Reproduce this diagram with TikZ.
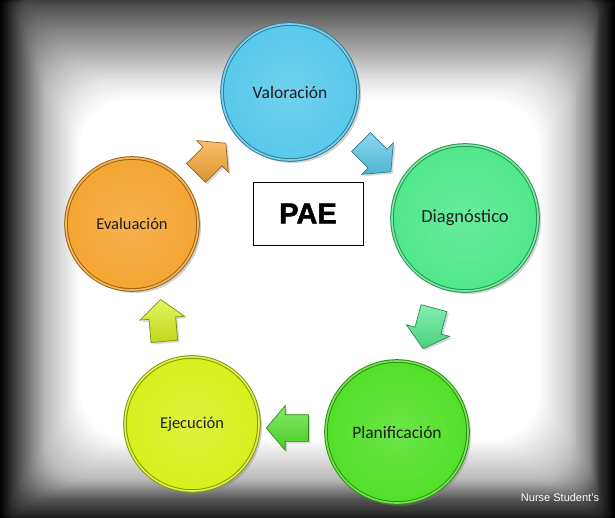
\documentclass[tikz,border=0pt]{standalone}
\usepackage{fontspec}
\setmainfont{Liberation Sans}
\newfontfamily\carl{Carlito}
\newfontfamily\paefont{Liberation Sans}[BoldFeatures={FakeBold=1.6}]
\usetikzlibrary{shapes.arrows,shadows}
\definecolor{valc}{RGB}{88,200,235}
\definecolor{diagc}{RGB}{80,232,140}
\definecolor{planc}{RGB}{82,224,40}
\definecolor{ejec}{RGB}{214,240,28}
\definecolor{evalc}{RGB}{245,165,50}
\begin{document}
\begin{tikzpicture}[x=1pt,y=-1pt,
  ball/.style={circle, inner sep=0pt, text=black!88,
    inner color=#1!85!white, outer color=#1,
    draw=#1!62!black, line width=1pt, double=#1!80!white, double distance=1.6pt,
    drop shadow={shadow xshift=3pt, shadow yshift=-3pt, opacity=.35}},
  blk/.style={single arrow, inner xsep=0pt, inner ysep=13pt, draw=#1!60!black, line width=.7pt,
    top color=#1!70!white, bottom color=#1!90!black,
    minimum height=42pt, single arrow head extend=9pt, single arrow tip angle=100,
    drop shadow={shadow xshift=2pt, shadow yshift=-2pt, opacity=.3}},
  lbl/.style={font=\carl\fontsize{#1}{#1}\selectfont}
]
\useasboundingbox (0,0) rectangle (615,518);
\fill[black] (0,0) rectangle (615,518);
\foreach \g/\l/\t/\r/\b [remember=\g as \gp (initially 0), remember=\l as \lp (initially 0),
   remember=\t as \tp (initially 0), remember=\r as \rp (initially 0), remember=\b as \bp (initially 0)]
  in {5/3/0/3.8/0, 10/6.1/0/7.5/0, 15/9.1/0/11.3/1.8,
  20/12.1/0/15/6.3, 25/15.2/0/16.5/10.8, 30/18.2/3.7/18/15.3, 35/21.3/9.7/19.5/19,
  40/24.4/15.8/21.1/21.5, 45/27.5/21.9/22.6/24, 50/30.6/28/24.1/26.5, 55/33.8/34.8/26.5/29,
  60/36.9/41.5/30.2/31.5, 65/40/48.3/33.9/34, 70/43.1/55/37.6/36.5, 75/47.6/61.3/41.3/41,
  80/54.1/67.5/45/48.4, 85/60.6/73.8/52.5/55.8, 90/67/80/60/63.2, 95/73.5/90/67.5/70.6,
  100/80/100/75/78}{
  \foreach \s in {1,...,5}{
    \pgfmathsetmacro\gg{\gp+(\g-\gp)*\s/5}
    \pgfmathsetmacro\ll{\lp+(\l-\lp)*\s/5}
    \pgfmathsetmacro\tt{\tp+(\t-\tp)*\s/5}
    \pgfmathsetmacro\rr{\rp+(\r-\rp)*\s/5}
    \pgfmathsetmacro\bb{\bp+(\b-\bp)*\s/5}
    \pgfmathsetmacro\rc{3+0.45*\gg}
    \fill[white!\gg!black, rounded corners=\rc pt] (\ll,\tt) rectangle (615-\rr,518-\bb);
  }
}

\node[ball=valc, minimum size=136pt, lbl=17.5] (val) at (290,92) {Valoración};
\node[ball=diagc, minimum size=146pt, lbl=18.5] (diag) at (465,218) {Diagnóstico};
\node[ball=planc, minimum size=142pt, lbl=17.5] (plan) at (397,432) {Planificación};
\node[ball=ejec, minimum size=134pt, lbl=16.5] (eje) at (192,424) {Ejecución};
\node[ball=evalc, minimum size=132pt, lbl=16.5] (eva) at (132,224) {Evaluación};

\node[blk=valc, rotate=-45] (a1) at (372,153) {};
\node[blk=diagc, rotate=-105] (a2) at (430,323) {};
\node[blk=planc, rotate=180] (a3) at (293,428) {};
\node[blk=ejec, rotate=95] (a4) at (163,326) {};
\node[blk=evalc, rotate=45] (a5) at (207,162) {};

\node[draw=black, line width=.6pt, fill=white, minimum width=110pt, minimum height=63pt,
  inner sep=0pt, font=\paefont\bfseries\fontsize{29}{29}\selectfont] (pae) at (308,213.5) {PAE};

\node[text=white, font=\fontsize{11}{13}\selectfont] (ns) at (560,498) {Nurse Student's};
\end{tikzpicture}
\end{document}
